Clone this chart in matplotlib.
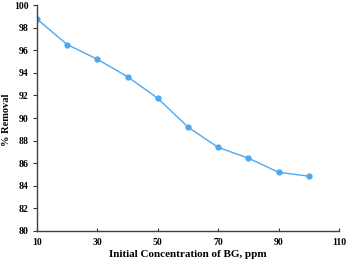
import matplotlib
matplotlib.use("Agg")
import matplotlib.pyplot as plt

concentration = [10, 20, 30, 40, 50, 60, 70, 80, 90, 100]
removal = [98.75, 96.5, 95.2, 93.65, 91.75, 89.2, 87.4, 86.45, 85.2, 84.85]

x_ticks = [10, 30, 50, 70, 90, 110]
y_ticks = [80, 82, 84, 86, 88, 90, 92, 94, 96, 98, 100]

plt.rcParams["font.family"] = ["Liberation Serif", "DejaVu Serif"]
plt.rcParams["font.weight"] = "bold"

fig = plt.figure(figsize=(3.49, 2.64), dpi=100)
ax = fig.add_axes([0.106, 0.125, 0.865, 0.856])

ax.plot(concentration, removal, color="#4DA8F0", linewidth=1.0,
        marker="o", markersize=3.5)

ax.set_xlim(10, 110)
ax.set_ylim(80, 100)
ax.set_xticks(x_ticks)
ax.set_yticks(y_ticks)
ax.tick_params(axis="x", direction="in", length=2, width=0.8, labelsize=7, pad=5, colors="#333333")
ax.tick_params(axis="y", direction="out", length=3, width=0.8, labelsize=7, pad=3, colors="#333333")
for lbl in ax.get_xticklabels() + ax.get_yticklabels():
    lbl.set_fontweight("bold")
    lbl.set_color("black")

for side in ("top", "right"):
    ax.spines[side].set_visible(False)
for side in ("left", "bottom"):
    ax.spines[side].set_color("#404040")
    ax.spines[side].set_linewidth(1.0)

ax.set_xlabel("Initial Concentration of BG, ppm", fontsize=8, fontweight="bold", labelpad=2)
ax.set_ylabel("% Removal", fontsize=7.5, fontweight="bold")
ax.yaxis.set_label_coords(-0.086, 0.49)

fig.savefig("out.png", dpi=100)
